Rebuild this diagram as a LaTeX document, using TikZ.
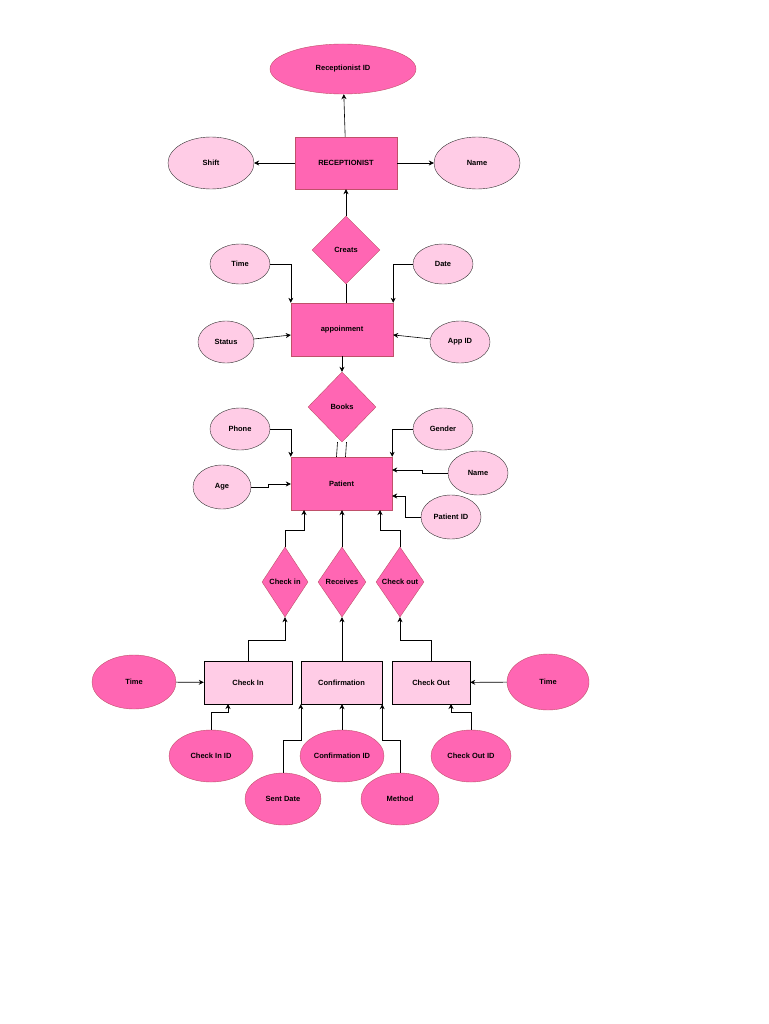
\documentclass[tikz,border=0pt]{standalone}
\usepackage{fontspec}
\setmainfont{Liberation Sans}
\usetikzlibrary{shapes.geometric,arrows.meta}
\definecolor{dk}{HTML}{FF66B3}
\definecolor{lt}{HTML}{FFCCE6}
\definecolor{ed}{HTML}{C0506A}
\tikzset{
 every node/.style={font=\bfseries\fontsize{7.5}{9}\selectfont},
 ent/.style={rectangle,fill=dk,draw=ed,inner sep=0pt},
 went/.style={rectangle,fill=lt,draw=black,inner sep=0pt},
 atl/.style={ellipse,fill=lt,draw=black!80,inner sep=0pt},
 atd/.style={ellipse,fill=dk,draw=ed,inner sep=0pt},
 rel/.style={diamond,fill=dk,draw=ed,inner sep=0pt,aspect=1},
 ar/.style={-{Stealth[length=5pt,width=5pt]},line width=0.6pt},
 ln/.style={line width=0.6pt}
}
\begin{document}
\begin{tikzpicture}[x=1pt,y=-1pt]
\useasboundingbox[fill=white] (0,0) rectangle (768,1024);
% nodes
\node[atd,minimum width=146,minimum height=50] (rid) at (343,69) {Receptionist ID};
\node[ent,minimum width=102,minimum height=52] (rec) at (346,163) {RECEPTIONIST};
\node[atl,minimum width=86,minimum height=52] (shift) at (211,163) {Shift};
\node[atl,minimum width=86,minimum height=52] (rname) at (477,163) {Name};
\node[rel,minimum width=68,minimum height=68] (creats) at (346,250) {Creats};
\node[atl,minimum width=60,minimum height=40] (atime) at (240,264) {Time};
\node[atl,minimum width=60,minimum height=40] (adate) at (443,264) {Date};
\node[ent,minimum width=102,minimum height=53] (app) at (342,329.5) {appoinment};
\node[atl,minimum width=56,minimum height=42] (status) at (226,342) {Status};
\node[atl,minimum width=60,minimum height=42] (appid) at (460,342) {App ID};
\node[rel,minimum width=68,minimum height=70] (books) at (342,407) {Books};
\node[atl,minimum width=60,minimum height=42] (phone) at (240,429) {Phone};
\node[atl,minimum width=60,minimum height=42] (gender) at (443,429) {Gender};
\node[ent,minimum width=101,minimum height=53] (pat) at (341.5,483.5) {Patient};
\node[atl,minimum width=58,minimum height=44] (age) at (222,487) {Age};
\node[atl,minimum width=60,minimum height=44] (pname) at (478,473) {Name};
\node[atl,minimum width=60,minimum height=44] (pid) at (451,517) {Patient ID};
\node[rel,minimum width=46,minimum height=70] (dcin) at (285,582) {Check in};
\node[rel,minimum width=48,minimum height=70] (drec) at (342,582) {Receives};
\node[rel,minimum width=48,minimum height=70] (dcout) at (400,582) {Check out};
\node[went,minimum width=88,minimum height=43] (cin) at (248,682.5) {Check In};
\node[went,minimum width=81,minimum height=43] (conf) at (341.5,682.5) {Confirmation};
\node[went,minimum width=78,minimum height=43] (cout) at (431,682.5) {Check Out};
\node[atd,minimum width=84,minimum height=54] (tl) at (134,682) {Time};
\node[atd,minimum width=82,minimum height=56] (tr) at (548,682) {Time};
\node[atd,minimum width=84,minimum height=52] (cinid) at (211,756) {Check In ID};
\node[atd,minimum width=76,minimum height=52] (sent) at (283,799) {Sent Date};
\node[atd,minimum width=84,minimum height=52] (confid) at (342,756) {Confirmation ID};
\node[atd,minimum width=78,minimum height=52] (meth) at (400,799) {Method};
\node[atd,minimum width=80,minimum height=52] (coutid) at (471,756) {Check Out ID};
% connectors
\draw[ar] (rec) -- (rid);
\draw[ar] (rec) -- (shift);
\draw[ar] (rec) -- (rname);
\draw[ar] (creats) -- (rec);
\draw[ln] (creats.south) -- (app.north -| creats.south);
\draw[ar] (atime.east) -| (app.north west);
\draw[ar] (adate.west) -| (app.north east);
\draw[ar] (status) -- (app);
\draw[ar] (appid) -- (app);
\draw[ar] (app.south) -- (books.north);
\draw[ln] ([xshift=-4.5]books.south) -- ([xshift=-5]pat.north);
\draw[ln] ([xshift=4.5]books.south) -- ([xshift=4]pat.north);
\draw[ar] (phone.east) -| (pat.north west);
\draw[ar] (gender.west) -| (pat.north east);
\draw[ar] (age.east) -- ++(17,0) -- ++(0,-3) -- (pat.west |- 0,484);
\draw[ar] (pname.west) -- ++(-26,0) -- ++(0,-3) -- (pat.east |- 0,470);
\draw[ar] (pid.west) -- ++(-16,0) -- ++(0,-21) -- (pat.east |- 0,496);
\draw[ar] (dcin.north) -- ++(0,-17) -| (304,510);
\draw[ar] (drec.north) -- (pat.south -| drec.north);
\draw[ar] (dcout.north) -- ++(0,-17) -| (380,510);
\draw[ar] (cin.north) -- ++(0,-21) -| (dcin.south);
\draw[ar] (conf.north -| drec.south) -- (drec.south);
\draw[ar] (cout.north) -- ++(0,-21) -| (dcout.south);
\draw[ar] (tl) -- (cin);
\draw[ar] (tr) -- (cout);
\draw[ar] (cinid.north) -- ++(0,-18) -| (228,704);
\draw[ar] (sent.north) -- ++(0,-33) -| (conf.south west);
\draw[ar] (confid.north) -- (conf.south -| confid.north);
\draw[ar] (meth.north) -- ++(0,-33) -| (conf.south east);
\draw[ar] (coutid.north) -- ++(0,-18) -| (451,704);
\end{tikzpicture}
\end{document}
